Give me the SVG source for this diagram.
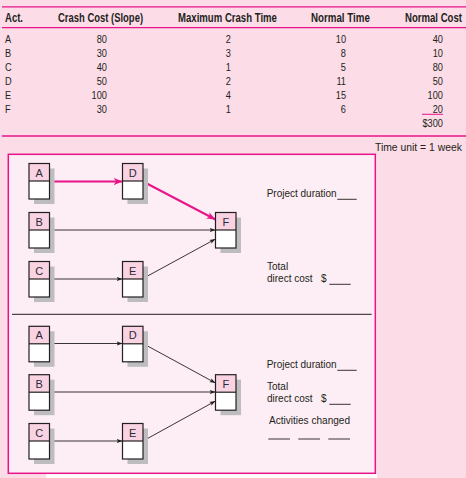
<svg xmlns="http://www.w3.org/2000/svg" width="466" height="478" viewBox="0 0 466 478">
<defs>
<style>
.t{font-family:"Liberation Sans",Arial,sans-serif;fill:#231f20}
.tb{font-family:"Liberation Sans",Arial,sans-serif;fill:#231f20;font-weight:bold;font-size:12px}
.tn{font-family:"Liberation Sans",Arial,sans-serif;fill:#231f20;font-size:11.5px;text-anchor:end}
.tl{font-family:"Liberation Sans",Arial,sans-serif;fill:#231f20;font-size:11.5px}
.lbl{font-family:"Liberation Sans",Arial,sans-serif;fill:#2a2a3a;font-size:11px;text-anchor:middle}
.sh{fill:#bdbdbf}
.top{fill:#f9d3e2}
.bot{fill:#ffffff}
.out{fill:none;stroke:#231f20;stroke-width:1.2}
.e{stroke:#231f20;stroke-width:0.9;fill:none;marker-end:url(#ab)}
.em{stroke:#e8158a;stroke-width:2;fill:none;marker-end:url(#am)}
.ul{stroke:#231f20;stroke-width:0.9}
</style>
<marker id="ab" viewBox="0 0 10 10" refX="10" refY="5" markerWidth="6" markerHeight="6" markerUnits="userSpaceOnUse" orient="auto"><path d="M0,1.5 L10,5 L0,8.5 L2.5,5 Z" fill="#231f20"/></marker>
<marker id="am" viewBox="0 0 10 10" refX="10" refY="5" markerWidth="9" markerHeight="9" markerUnits="userSpaceOnUse" orient="auto"><path d="M0,1 L10,5 L0,9 L3,5 Z" fill="#e8158a"/></marker>
<g id="nodeshape">
<rect class="sh" x="5" y="5" width="20.5" height="35.5"/>
<rect class="top" x="0" y="0" width="20.5" height="17.5"/>
<rect class="bot" x="0" y="17.5" width="20.5" height="18"/>
<rect class="out" x="0" y="0" width="20.5" height="35.5"/>
<line class="out" x1="0" y1="17.5" x2="20.5" y2="17.5"/>
</g>
</defs>
<rect x="0" y="0" width="466" height="478" fill="#fbdce7"/>
<rect x="46" y="474" width="331" height="4" fill="#ffffff"/>

<g id="table">
<line x1="2" y1="6.8" x2="466" y2="6.8" stroke="#e8158a" stroke-width="1.3"/>
<line x1="2" y1="27.7" x2="466" y2="27.7" stroke="#e8158a" stroke-width="1.3"/>
<line x1="2" y1="136" x2="466" y2="136" stroke="#e8158a" stroke-width="1.3"/>
<line x1="422" y1="114.3" x2="443" y2="114.3" stroke="#e8158a" stroke-width="1"/>
<g transform="scale(0.8,1)">
<text class="tb" x="6.25" y="21.8" textLength="22.5" lengthAdjust="spacingAndGlyphs">Act.</text>
<text class="tb" x="72.5" y="21.8" textLength="106.3" lengthAdjust="spacingAndGlyphs">Crash Cost (Slope)</text>
<text class="tb" x="222.5" y="21.8" textLength="123.7" lengthAdjust="spacingAndGlyphs">Maximum Crash Time</text>
<text class="tb" x="388.7" y="21.8" textLength="73.7" lengthAdjust="spacingAndGlyphs">Normal Time</text>
<text class="tb" x="506.2" y="21.8" textLength="71.3" lengthAdjust="spacingAndGlyphs">Normal Cost</text>
<text class="tl" x="6.25" y="43.5">A</text>
<text class="tl" x="6.25" y="57.2">B</text>
<text class="tl" x="6.25" y="71.2">C</text>
<text class="tl" x="6.25" y="85.2">D</text>
<text class="tl" x="6.25" y="99.2">E</text>
<text class="tl" x="6.25" y="113.2">F</text>
<text class="tn" x="133.7" y="43.5">80</text>
<text class="tn" x="133.7" y="57.2">30</text>
<text class="tn" x="133.7" y="71.2">40</text>
<text class="tn" x="133.7" y="85.2">50</text>
<text class="tn" x="133.7" y="99.2">100</text>
<text class="tn" x="133.7" y="113.2">30</text>
<text class="tn" x="288.7" y="43.5">2</text>
<text class="tn" x="288.7" y="57.2">3</text>
<text class="tn" x="288.7" y="71.2">1</text>
<text class="tn" x="288.7" y="85.2">2</text>
<text class="tn" x="288.7" y="99.2">4</text>
<text class="tn" x="288.7" y="113.2">1</text>
<text class="tn" x="432.5" y="43.5">10</text>
<text class="tn" x="432.5" y="57.2">8</text>
<text class="tn" x="432.5" y="71.2">5</text>
<text class="tn" x="432.5" y="85.2">11</text>
<text class="tn" x="432.5" y="99.2">15</text>
<text class="tn" x="432.5" y="113.2">6</text>
<text class="tn" x="553.7" y="43.5">40</text>
<text class="tn" x="553.7" y="57.2">10</text>
<text class="tn" x="553.7" y="71.2">80</text>
<text class="tn" x="553.7" y="85.2">50</text>
<text class="tn" x="553.7" y="99.2">100</text>
<text class="tn" x="553.7" y="113.2">20</text>
<text class="tn" x="553.7" y="127.5">$300</text>
<text class="tl" x="468.7" y="151" textLength="108.7" lengthAdjust="spacingAndGlyphs">Time unit = 1 week</text>
</g>
</g>

<rect x="8.3" y="154.3" width="367" height="319" fill="#fdedf4" stroke="#e8158a" stroke-width="1.5"/>
<line x1="12" y1="314.3" x2="371.7" y2="314.3" stroke="#231f20" stroke-width="1"/>

<g id="connectors">
<line class="em" x1="50" y1="181.5" x2="122.5" y2="181.5"/>
<line class="em" x1="143" y1="181.5" x2="215.5" y2="219.5"/>
<line class="e" x1="50" y1="230" x2="215.5" y2="230"/>
<line class="e" x1="50" y1="279" x2="122.5" y2="279"/>
<line class="e" x1="143" y1="278.5" x2="215.5" y2="239"/>
<line class="e" x1="50" y1="343.5" x2="122.5" y2="343.5"/>
<line class="e" x1="143" y1="343.5" x2="215.5" y2="383"/>
<line class="e" x1="50" y1="392" x2="215.5" y2="392"/>
<line class="e" x1="50" y1="441" x2="122.5" y2="441"/>
<line class="e" x1="143" y1="441" x2="215.5" y2="401"/>
</g>

<g id="n1A" transform="translate(29,163.5)"><use href="#nodeshape"/><text class="lbl" x="10.25" y="13">A</text></g>
<g id="n1D" transform="translate(122.5,163.5)"><use href="#nodeshape"/><text class="lbl" x="10.25" y="13">D</text></g>
<g id="n1B" transform="translate(29,212.5)"><use href="#nodeshape"/><text class="lbl" x="10.25" y="13">B</text></g>
<g id="n1F" transform="translate(215.5,212.5)"><use href="#nodeshape"/><text class="lbl" x="10.25" y="13">F</text></g>
<g id="n1C" transform="translate(29,261.5)"><use href="#nodeshape"/><text class="lbl" x="10.25" y="13">C</text></g>
<g id="n1E" transform="translate(122.5,261.5)"><use href="#nodeshape"/><text class="lbl" x="10.25" y="13">E</text></g>

<g id="n2A" transform="translate(29,326.3)"><use href="#nodeshape"/><text class="lbl" x="10.25" y="13">A</text></g>
<g id="n2D" transform="translate(122.5,326.3)"><use href="#nodeshape"/><text class="lbl" x="10.25" y="13">D</text></g>
<g id="n2B" transform="translate(29,374.7)"><use href="#nodeshape"/><text class="lbl" x="10.25" y="13">B</text></g>
<g id="n2F" transform="translate(215.5,374.7)"><use href="#nodeshape"/><text class="lbl" x="10.25" y="13">F</text></g>
<g id="n2C" transform="translate(29,423.5)"><use href="#nodeshape"/><text class="lbl" x="10.25" y="13">C</text></g>
<g id="n2E" transform="translate(122.5,423.5)"><use href="#nodeshape"/><text class="lbl" x="10.25" y="13">E</text></g>

<g id="labels1">
<text class="t" font-size="10" x="266.7" y="197" textLength="70" lengthAdjust="spacingAndGlyphs">Project duration</text>
<line class="ul" x1="337.3" y1="199.3" x2="356.7" y2="199.3"/>
<text class="t" font-size="10" x="267" y="269.7">Total</text>
<text class="t" font-size="10" x="267" y="282">direct cost</text>
<text class="t" font-size="10" x="321" y="282">$</text>
<line class="ul" x1="329.3" y1="284.3" x2="350.7" y2="284.3"/>
</g>
<g id="labels2">
<text class="t" font-size="10" x="266.7" y="367.7" textLength="70" lengthAdjust="spacingAndGlyphs">Project duration</text>
<line class="ul" x1="337.3" y1="370.3" x2="356.7" y2="370.3"/>
<text class="t" font-size="10" x="267" y="389.7">Total</text>
<text class="t" font-size="10" x="267" y="402.3">direct cost</text>
<text class="t" font-size="10" x="321" y="402.3">$</text>
<line class="ul" x1="329.3" y1="404.3" x2="350.7" y2="404.3"/>
<text class="t" font-size="10" x="269" y="423.7" textLength="81" lengthAdjust="spacingAndGlyphs">Activities changed</text>
<line class="ul" x1="268.3" y1="439" x2="290" y2="439"/>
<line class="ul" x1="298.3" y1="439" x2="320" y2="439"/>
<line class="ul" x1="328.3" y1="439" x2="350" y2="439"/>
</g>
</svg>
